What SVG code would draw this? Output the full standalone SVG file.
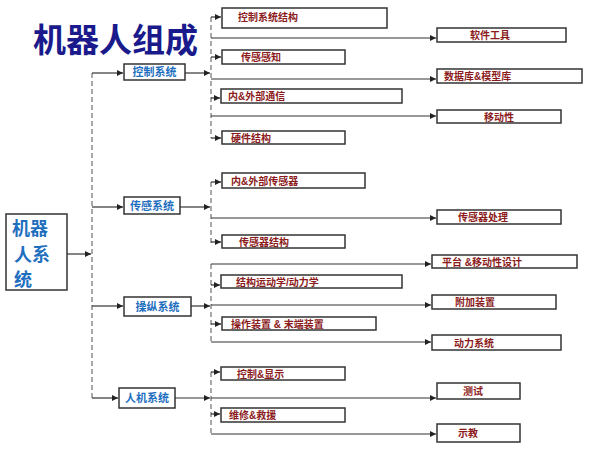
<svg xmlns="http://www.w3.org/2000/svg" width="600" height="450" viewBox="0 0 600 450">
<defs>
<marker id="ar" markerWidth="6" markerHeight="6" refX="6" refY="3" orient="auto" markerUnits="userSpaceOnUse"><path d="M0,0 L6,3 L0,6 z" fill="#222"/></marker>
<style>
rect{fill:#fff;stroke:#333;stroke-width:1.5}
.c{fill:none;stroke:#333;stroke-width:1.2}
.d{fill:none;stroke:#555;stroke-width:1;stroke-dasharray:5,3}
.r{font-family:"Liberation Sans","Noto Sans CJK SC",sans-serif;font-size:10px;font-weight:bold;fill:#8b1a1a}
.b{font-family:"Liberation Sans","Noto Sans CJK SC",sans-serif;font-size:11px;font-weight:bold;fill:#1f6fbf;text-anchor:middle}
.m{font-family:"Noto Sans CJK SC",sans-serif;font-size:18px;font-weight:bold;fill:#1f6fbf}
</style>
</defs>
<rect width="600" height="450" style="fill:#fff;stroke:none"/>
<text x="33" y="52" style="font-family:'Noto Sans CJK SC',sans-serif;font-size:33px;font-weight:bold;fill:#1a1a8c">机器人组成</text>
<g id="connectors">
<path class="c" d="M67,254 H91" marker-end="url(#ar)"/>
<path class="d" d="M92,73 V398"/>
<path class="c" d="M92,73 H123" marker-end="url(#ar)"/>
<path class="c" d="M92,207 H123" marker-end="url(#ar)"/>
<path class="c" d="M92,306 H123" marker-end="url(#ar)"/>
<path class="c" d="M92,398 H118" marker-end="url(#ar)"/>
<path class="c" d="M185,73 H210" marker-end="url(#ar)"/>
<path class="c" d="M180,207 H210" marker-end="url(#ar)"/>
<path class="c" d="M191,306 H210" marker-end="url(#ar)"/>
<path class="c" d="M175,398 H210" marker-end="url(#ar)"/>
<path class="d" d="M211,17 V138"/>
<path class="d" d="M211,182 V243"/>
<path class="d" d="M211,264 V342"/>
<path class="d" d="M211,372 V434"/>
<path class="c" d="M211,17 H221" marker-end="url(#ar)"/>
<path class="c" d="M211,38 H436" marker-end="url(#ar)"/>
<path class="c" d="M211,57 H221" marker-end="url(#ar)"/>
<path class="c" d="M211,79 H436" marker-end="url(#ar)"/>
<path class="c" d="M211,98 H220" marker-end="url(#ar)"/>
<path class="c" d="M211,116 H436" marker-end="url(#ar)"/>
<path class="c" d="M211,138 H221" marker-end="url(#ar)"/>
<path class="c" d="M211,182 H221" marker-end="url(#ar)"/>
<path class="c" d="M211,218 H436" marker-end="url(#ar)"/>
<path class="c" d="M211,242 H221" marker-end="url(#ar)"/>
<path class="c" d="M211,264 H431" marker-end="url(#ar)"/>
<path class="c" d="M211,285 H220" marker-end="url(#ar)"/>
<path class="c" d="M211,305 H431" marker-end="url(#ar)"/>
<path class="c" d="M211,324 H221" marker-end="url(#ar)"/>
<path class="c" d="M211,342 H431" marker-end="url(#ar)"/>
<path class="c" d="M211,372 H220" marker-end="url(#ar)"/>
<path class="c" d="M211,398 H436" marker-end="url(#ar)"/>
<path class="c" d="M211,414 H220" marker-end="url(#ar)"/>
<path class="c" d="M211,434 H436" marker-end="url(#ar)"/>
</g>
<g id="root"><rect x="6" y="214" width="61" height="76"/>
<text class="m" x="12" y="235">机器</text>
<text class="m" x="14" y="261">人系</text>
<text class="m" x="14" y="286">统</text></g>
<g id="ctrl"><rect x="124" y="64" width="61" height="16"/><text class="b" x="154.5" y="76">控制系统</text></g>
<g id="sense"><rect x="124" y="197" width="56" height="17"/><text class="b" x="152" y="209.5">传感系统</text></g>
<g id="manip"><rect x="124" y="297" width="67" height="19"/><text class="b" x="157.5" y="310.5">操纵系统</text></g>
<g id="hmi"><rect x="119" y="388" width="56" height="20"/><text class="b" x="147" y="402">人机系统</text></g>
<g id="n1"><rect x="222" y="8" width="165" height="20"/><text class="r" x="238" y="21">控制系统结构</text></g>
<g id="n2"><rect x="437" y="28" width="129" height="14"/><text class="r" x="470" y="39">软件工具</text></g>
<g id="n3"><rect x="222" y="50" width="123" height="14"/><text class="r" x="241" y="61">传感感知</text></g>
<g id="n4"><rect x="437" y="69" width="145" height="14"/><text class="r" x="444" y="80">数据库&amp;模型库</text></g>
<g id="n5"><rect x="221" y="89" width="181" height="14"/><text class="r" x="228" y="100">内&amp;外部通信</text></g>
<g id="n6"><rect x="437" y="110" width="124" height="13"/><text class="r" x="484" y="120.5">移动性</text></g>
<g id="n7"><rect x="222" y="131" width="123" height="13"/><text class="r" x="231" y="141.5">硬件结构</text></g>
<g id="n8"><rect x="222" y="173" width="143" height="15"/><text class="r" x="231" y="184.5">内&amp;外部传感器</text></g>
<g id="n9"><rect x="437" y="210" width="124" height="14"/><text class="r" x="458" y="221">传感器处理</text></g>
<g id="n10"><rect x="222" y="235" width="123" height="13"/><text class="r" x="239" y="245.5">传感器结构</text></g>
<g id="n11"><rect x="432" y="255" width="145" height="13"/><text class="r" x="442" y="265.5">平台 &amp;移动性设计</text></g>
<g id="n12"><rect x="221" y="275" width="181" height="13"/><text class="r" x="236" y="285.5">结构运动学/动力学</text></g>
<g id="n13"><rect x="432" y="295" width="124" height="14"/><text class="r" x="455" y="306">附加装置</text></g>
<g id="n14"><rect x="222" y="317" width="154" height="13"/><text class="r" x="231" y="327.5">操作装置 &amp; 末端装置</text></g>
<g id="n15"><rect x="432" y="335" width="129" height="15"/><text class="r" x="454" y="346.5">动力系统</text></g>
<g id="n16"><rect x="221" y="367" width="124" height="13"/><text class="r" x="237" y="377.5">控制&amp;显示</text></g>
<g id="n17"><rect x="437" y="383" width="83" height="16"/><text class="r" x="463" y="395">测试</text></g>
<g id="n18"><rect x="221" y="408" width="124" height="14"/><text class="r" x="229" y="419">维修&amp;救援</text></g>
<g id="n19"><rect x="437" y="424" width="83" height="18"/><text class="r" x="458" y="437">示教</text></g>
</svg>
